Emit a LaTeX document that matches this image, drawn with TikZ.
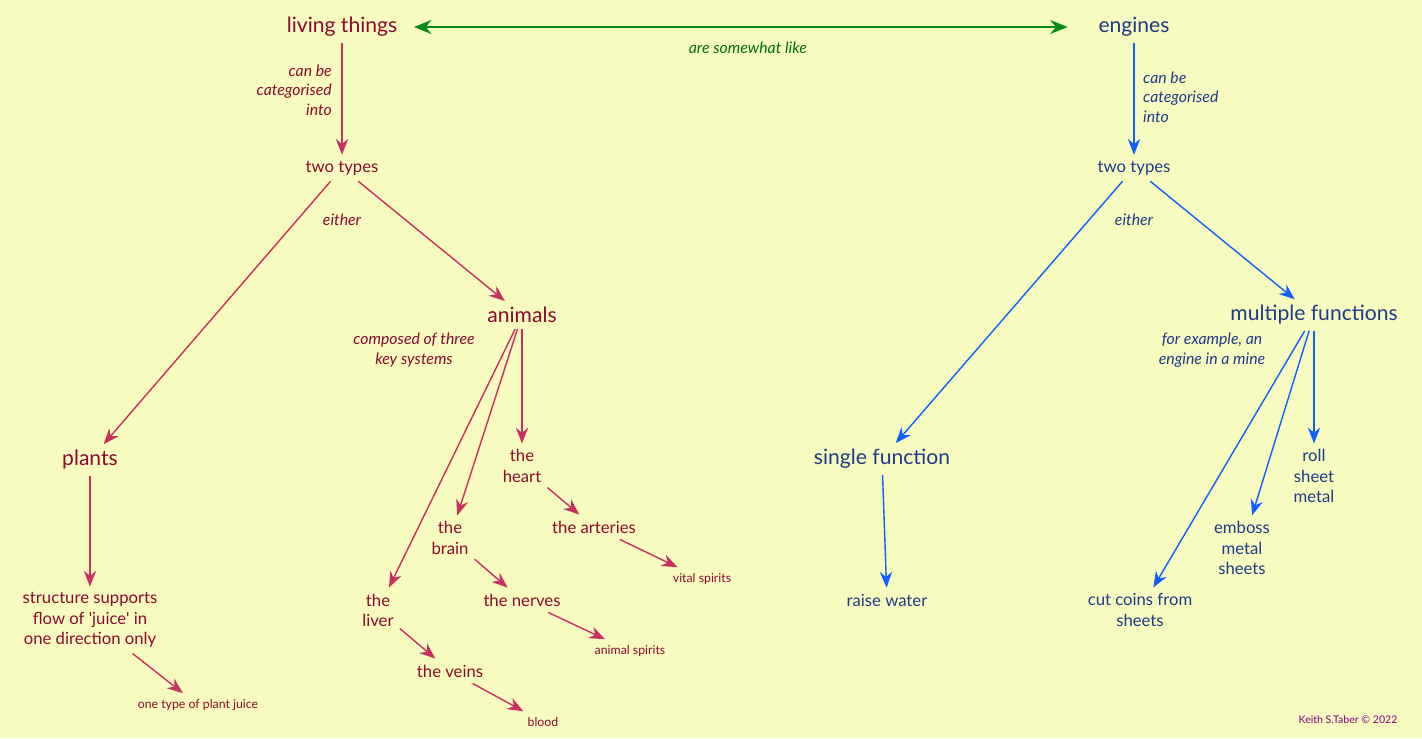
\documentclass[tikz,border=0pt]{standalone}
\usepackage{fontspec}
\setmainfont{Lato}
\usepackage{textcomp}
\usetikzlibrary{arrows.meta}
\definecolor{bg}{HTML}{F7FBBF}
\definecolor{redtext}{HTML}{8A0A30}
\definecolor{redline}{HTML}{C8305F}
\definecolor{bluetext}{HTML}{1F3A8A}
\definecolor{blueline}{HTML}{1060FF}
\definecolor{greenline}{HTML}{0A8A1A}
\begin{document}
\begin{tikzpicture}[x=0.02cm, y=-0.02cm,
    big/.style={font=\fontsize{12}{14}\selectfont},
    mid/.style={font=\fontsize{9.5}{11.5}\selectfont, align=center},
    small/.style={font=\fontsize{7}{9}\selectfont},
    lab/.style={font=\itshape\fontsize{9}{11}\selectfont},
    rn/.style={text=redtext}, bn/.style={text=bluetext},
    rarr/.style={draw=redline, thick, -{Stealth[length=9pt,width=7pt]}},
    barr/.style={draw=blueline, thick, -{Stealth[length=9pt,width=7pt]}}]
    \fill[bg] (0,0) rectangle (1422,738);
    % left side
    \node[big, rn] (living) at (342,27) {living things};
    \node[mid, rn] (ltwo) at (342,168) {two types};
    \node[big, rn] (animals) at (522,315) {animals};
    \node[big, rn] (plants) at (90,460) {plants};
    \node[mid, rn] (struct) at (90,620) {structure supports\\flow of \textquotesingle juice\textquotesingle\ in\\one direction only};
    \node[small, rn] (juice) at (198,705) {one type of plant juice};
    \node[mid, rn] (heart) at (522,466) {the\\heart};
    \node[mid, rn] (brain) at (450,538) {the\\brain};
    \node[mid, rn] (liver) at (378,610) {the\\liver};
    \node[mid, rn] (arteries) at (594,527) {the arteries};
    \node[small, rn] (vital) at (702,579) {vital spirits};
    \node[mid, rn] (nerves) at (522,600) {the nerves};
    \node[small, rn] (aspirits) at (630,651) {animal spirits};
    \node[mid, rn] (veins) at (450,671) {the veins};
    \node[small, rn] (blood) at (543,722) {blood};
    % right side
    \node[big, bn] (engines) at (1134,27) {engines};
    \node[mid, bn] (rtwo) at (1134,168) {two types};
    \node[big, bn] (multi) at (1314,315) {multiple functions};
    \node[big, bn] (single) at (882,459) {single function};
    \node[mid, bn] (water) at (887,600) {raise water};
    \node[mid, bn] (roll) at (1314,476) {roll\\sheet\\metal};
    \node[mid, bn] (emboss) at (1242,548) {emboss\\metal\\sheets};
    \node[mid, bn] (coins) at (1140,610) {cut coins from\\sheets};

    \draw[greenline, thick, shorten <=6pt, shorten >=14pt, {Stealth[length=10pt,width=8pt]}-{Stealth[length=10pt,width=8pt]}] (living) -- (engines) node[midway, below=5pt, lab, text=greenline!80!black] {are somewhat like};
    \draw[rarr] (living) -- (ltwo);
    \node[lab, rn, align=right, anchor=east] at (338,90) {can be\\categorised\\into};
    \draw[rarr] (ltwo) -- (plants);
    \draw[rarr] (ltwo) -- (animals);
    \node[lab, rn] at (342,220) {either};
    \node[lab, rn, align=center] at (414,350) {composed of three\\key systems};
    \draw[rarr] (plants) -- (struct);
    \draw[rarr] (struct) -- (juice);
    \draw[rarr] (animals) -- (heart);
    \draw[rarr] (animals) -- (brain);
    \draw[rarr] (animals) -- (liver);
    \draw[rarr] (heart) -- (arteries);
    \draw[rarr] (arteries) -- (vital);
    \draw[rarr] (brain) -- (nerves);
    \draw[rarr] (nerves) -- (aspirits);
    \draw[rarr] (liver) -- (veins);
    \draw[rarr] (veins) -- (blood);

    \draw[barr] (engines) -- (rtwo);
    \node[lab, bn, align=left, anchor=west] at (1137,97) {can be\\categorised\\into};
    \draw[barr] (rtwo) -- (single);
    \draw[barr] (rtwo) -- (multi);
    \node[lab, bn] at (1134,220) {either};
    \node[lab, bn, align=center] at (1212,350) {for example, an\\engine in a mine};
    \draw[barr] (single) -- (water);
    \draw[barr] (multi) -- (roll);
    \draw[barr] (multi) -- (emboss);
    \draw[barr] (multi) -- (coins);

    \node[font=\fontsize{6}{7}\selectfont, text=violet] (credit) at (1348,720) {Keith S.Taber © 2022};
\end{tikzpicture}
\end{document}
